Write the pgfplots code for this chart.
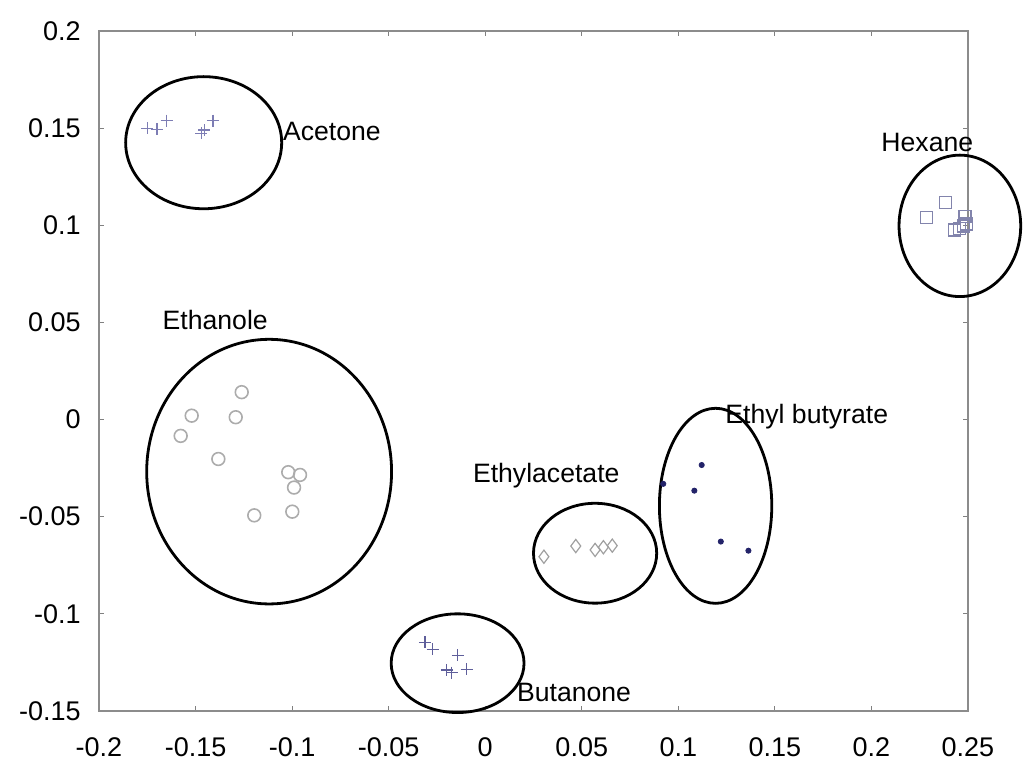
\documentclass[border=0pt]{standalone}
\usepackage{fontspec}
\setmainfont{Liberation Sans}
\usepackage{pgfplots}
\pgfplotsset{compat=1.18}
\definecolor{acet}{RGB}{125,125,180}
\definecolor{buta}{RGB}{95,95,155}
\definecolor{hexa}{RGB}{130,132,172}
\definecolor{etha}{RGB}{172,172,172}
\definecolor{eac}{RGB}{160,160,160}
\definecolor{ebu}{RGB}{35,35,105}
\begin{document}
\fontsize{13.3}{16}\selectfont
\begin{tikzpicture}
\useasboundingbox (-49.5pt,-31.5pt) rectangle (463pt,355.5pt);
\begin{axis}[
  scale only axis, width=434.5pt, height=340pt,
  xmin=-0.2, xmax=0.25, ymin=-0.15, ymax=0.2,
  xtick={-0.2,-0.15,-0.1,-0.05,0,0.05,0.1,0.15,0.2,0.25},
  ytick={-0.15,-0.1,-0.05,0,0.05,0.1,0.15,0.2},
  /pgf/number format/assume math mode=true,
  /pgf/number format/.cd, fixed, precision=2, /pgfplots/.cd,
  tick align=inside, major tick length=2.5pt,
  tick style={gray, line width=0.6pt},
  axis line style={gray!90, line width=0.9pt},
  ticklabel style={font=\fontsize{13.5}{16}\selectfont},
  xticklabel style={yshift=-8.5pt},
  yticklabel style={xshift=-4.5pt},
  clip=false,
]
% Acetone
\addplot[only marks, mark=+, mark size=3pt, acet, mark options={line width=0.6pt}] coordinates {
(-0.175,0.150) (-0.170,0.1494) (-0.165,0.1538) (-0.147,0.1473) (-0.1455,0.149) (-0.141,0.1538)};
% Hexane
\addplot[only marks, mark=square, mark size=3pt, hexa, mark options={line width=0.6pt}] coordinates {
(0.2286,0.1041) (0.2385,0.1116) (0.2429,0.0976) (0.2485,0.1044) (0.2476,0.0996) (0.2493,0.1007) (0.2455,0.0985)};
% Ethanole
\addplot[only marks, mark=o, mark size=3.2pt, etha, mark options={line width=0.8pt}] coordinates {
(-0.1261,0.0141) (-0.152,0.002) (-0.1292,0.0012) (-0.1577,-0.0084) (-0.1382,-0.0203)
(-0.102,-0.0271) (-0.0959,-0.0285) (-0.099,-0.035) (-0.0999,-0.0474) (-0.1196,-0.0493)};
% Ethylacetate
\addplot[only marks, mark=diamond, mark size=3.3pt, eac, mark options={line width=0.6pt}] coordinates {
(0.0304,-0.0706) (0.0469,-0.0651) (0.0569,-0.0671) (0.0612,-0.0657) (0.0658,-0.0649)};
% Ethyl butyrate
\addplot[only marks, mark=*, mark size=1.3pt, ebu] coordinates {
(0.1121,-0.0234) (0.0922,-0.0331) (0.1083,-0.0366) (0.1220,-0.0628) (0.1363,-0.0675)};
% Butanone
\addplot[only marks, mark=+, mark size=3pt, buta, mark options={line width=0.6pt}] coordinates {
(-0.0312,-0.1146) (-0.0272,-0.1182) (-0.0142,-0.1213) (-0.0199,-0.1289) (-0.0173,-0.1303) (-0.0096,-0.1285)};
% cluster outlines
\draw[black, line width=1.4pt] (axis cs:-0.1458,0.1425) ellipse [x radius=0.0404, y radius=0.034];
\draw[black, line width=1.4pt] (axis cs:0.2458,0.0997) ellipse [x radius=0.0315, y radius=0.0364];
\draw[black, line width=1.4pt] (axis cs:-0.1119,-0.0268) ellipse [x radius=0.0634, y radius=0.0681];
\draw[black, line width=1.4pt] (axis cs:0.0569,-0.0688) ellipse [x radius=0.0319, y radius=0.0257];
\draw[black, line width=1.4pt] (axis cs:0.1193,-0.0444) ellipse [x radius=0.0291, y radius=0.0502];
\draw[black, line width=1.4pt] (axis cs:-0.0143,-0.1254) ellipse [x radius=0.0344, y radius=0.0254];
% labels
\node[anchor=base west, inner sep=0pt] at (axis cs:-0.1049,0.1435) {Acetone};
\node[anchor=base west, inner sep=0pt] at (axis cs:0.205,0.1379) {Hexane};
\node[anchor=base west, inner sep=0pt] at (axis cs:-0.1672,0.0461) {Ethanole};
\node[anchor=base west, inner sep=0pt] at (axis cs:-0.0065,-0.0325) {Ethylacetate};
\node[anchor=base west, inner sep=0pt] at (axis cs:0.1242,-0.0019) {Ethyl butyrate};
\node[anchor=base west, inner sep=0pt] at (axis cs:0.0163,-0.1452) {Butanone};
\end{axis}
\end{tikzpicture}
\end{document}
